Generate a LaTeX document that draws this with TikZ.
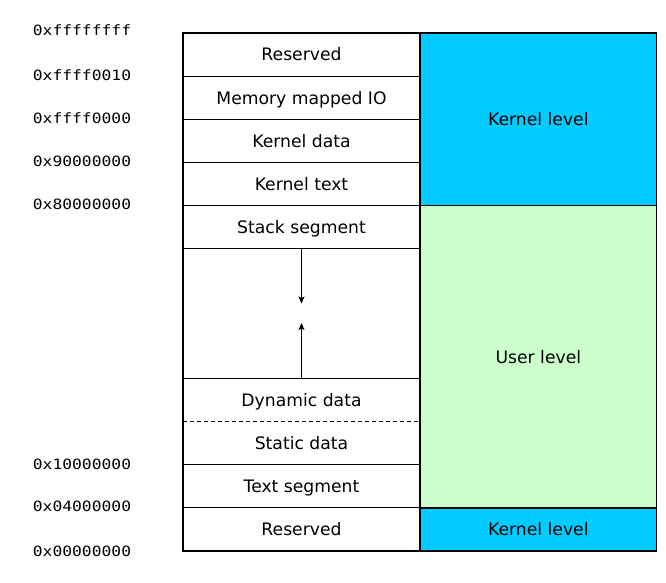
\documentclass[tikz,border=0pt]{standalone}
\usepackage{fontspec}
\setmainfont{DejaVu Sans}
\newfontfamily\addrfont[FakeStretch=1.15]{DejaVu Sans Mono}
\usetikzlibrary{positioning, arrows.meta}
\definecolor{kernelblue}{RGB}{0,204,255}
\definecolor{usergreen}{RGB}{204,255,204}

\begin{document}
\begin{tikzpicture}[
                x=1pt, y=-1pt,
                cell/.style={draw=black, line width=1.2pt, minimum width=237pt,
                    minimum height=43.17pt, inner sep=0pt, outer sep=0pt,
                    anchor=north west, text height=12.5pt, text depth=0pt,
                    font=\fontsize{17.2}{20}\selectfont},
                bare/.style={cell, draw=none},
                level/.style={cell, minimum width=236.7pt},
                addr/.style={font=\addrfont\fontsize{14.2}{17}\selectfont},
                growarrow/.style={line width=1.2pt, -{Stealth[length=7pt, width=6pt, inset=1.5pt]}},
                sep/.style={line width=1.2pt, dash pattern=on 4pt off 3pt}]
        \useasboundingbox (0,0) rectangle (666,583);

        % Segments of the address space, highest addresses first.
        \node[cell] (resvhi) at (183,33) {Reserved};
        \node[cell, below=0pt of resvhi] (mmio) {Memory mapped IO};
        \node[cell, below=0pt of mmio] (kdata) {Kernel data};
        \node[cell, below=0pt of kdata] (ktext) {Kernel text};
        \node[cell, below=0pt of ktext] (stack) {Stack segment};
        \node[cell, below=0pt of stack, minimum height=129.5pt] (gap) {};
        \node[bare, below=0pt of gap] (dyn) {Dynamic data};
        \node[bare, below=0pt of dyn] (stat) {Static data};
        \node[cell, below=0pt of stat] (tseg) {Text segment};
        \node[cell, below=0pt of tseg] (resvlo) {Reserved};

        % Data segment: one box, split by a dashed line.
        \draw[line width=1.2pt] (dyn.north west) rectangle (stat.south east);
        \draw[sep] (dyn.south west) -- (dyn.south east);

        % Stack grows down, heap grows up.
        \coordinate (stacktip) at (301.5,303.5);
        \coordinate (heaptip) at (301.5,323);
        \draw[growarrow] (gap.north) -- (stacktip);
        \draw[growarrow] (gap.south) -- (heaptip);

        % Privilege levels.
        \node[level, fill=kernelblue, minimum height=172.7pt] (kernhi) at (420,33) {Kernel level};
        \node[level, fill=usergreen, below=0pt of kernhi, minimum height=302.2pt] (user) {User level};
        \node[level, fill=kernelblue, below=0pt of user] (kernlo) {Kernel level};

        % Boundary addresses.
        \foreach \y/\a [count=\k] in {30/0xffffffff, 75.5/0xffff0010, 118.5/0xffff0000,
                161.5/0x90000000, 204.5/0x80000000, 464/0x10000000,
                506/0x04000000, 551/0x00000000} {
                \node[addr] (addr\k) at (82,\y) {\a};
        }
\end{tikzpicture}
\end{document}
